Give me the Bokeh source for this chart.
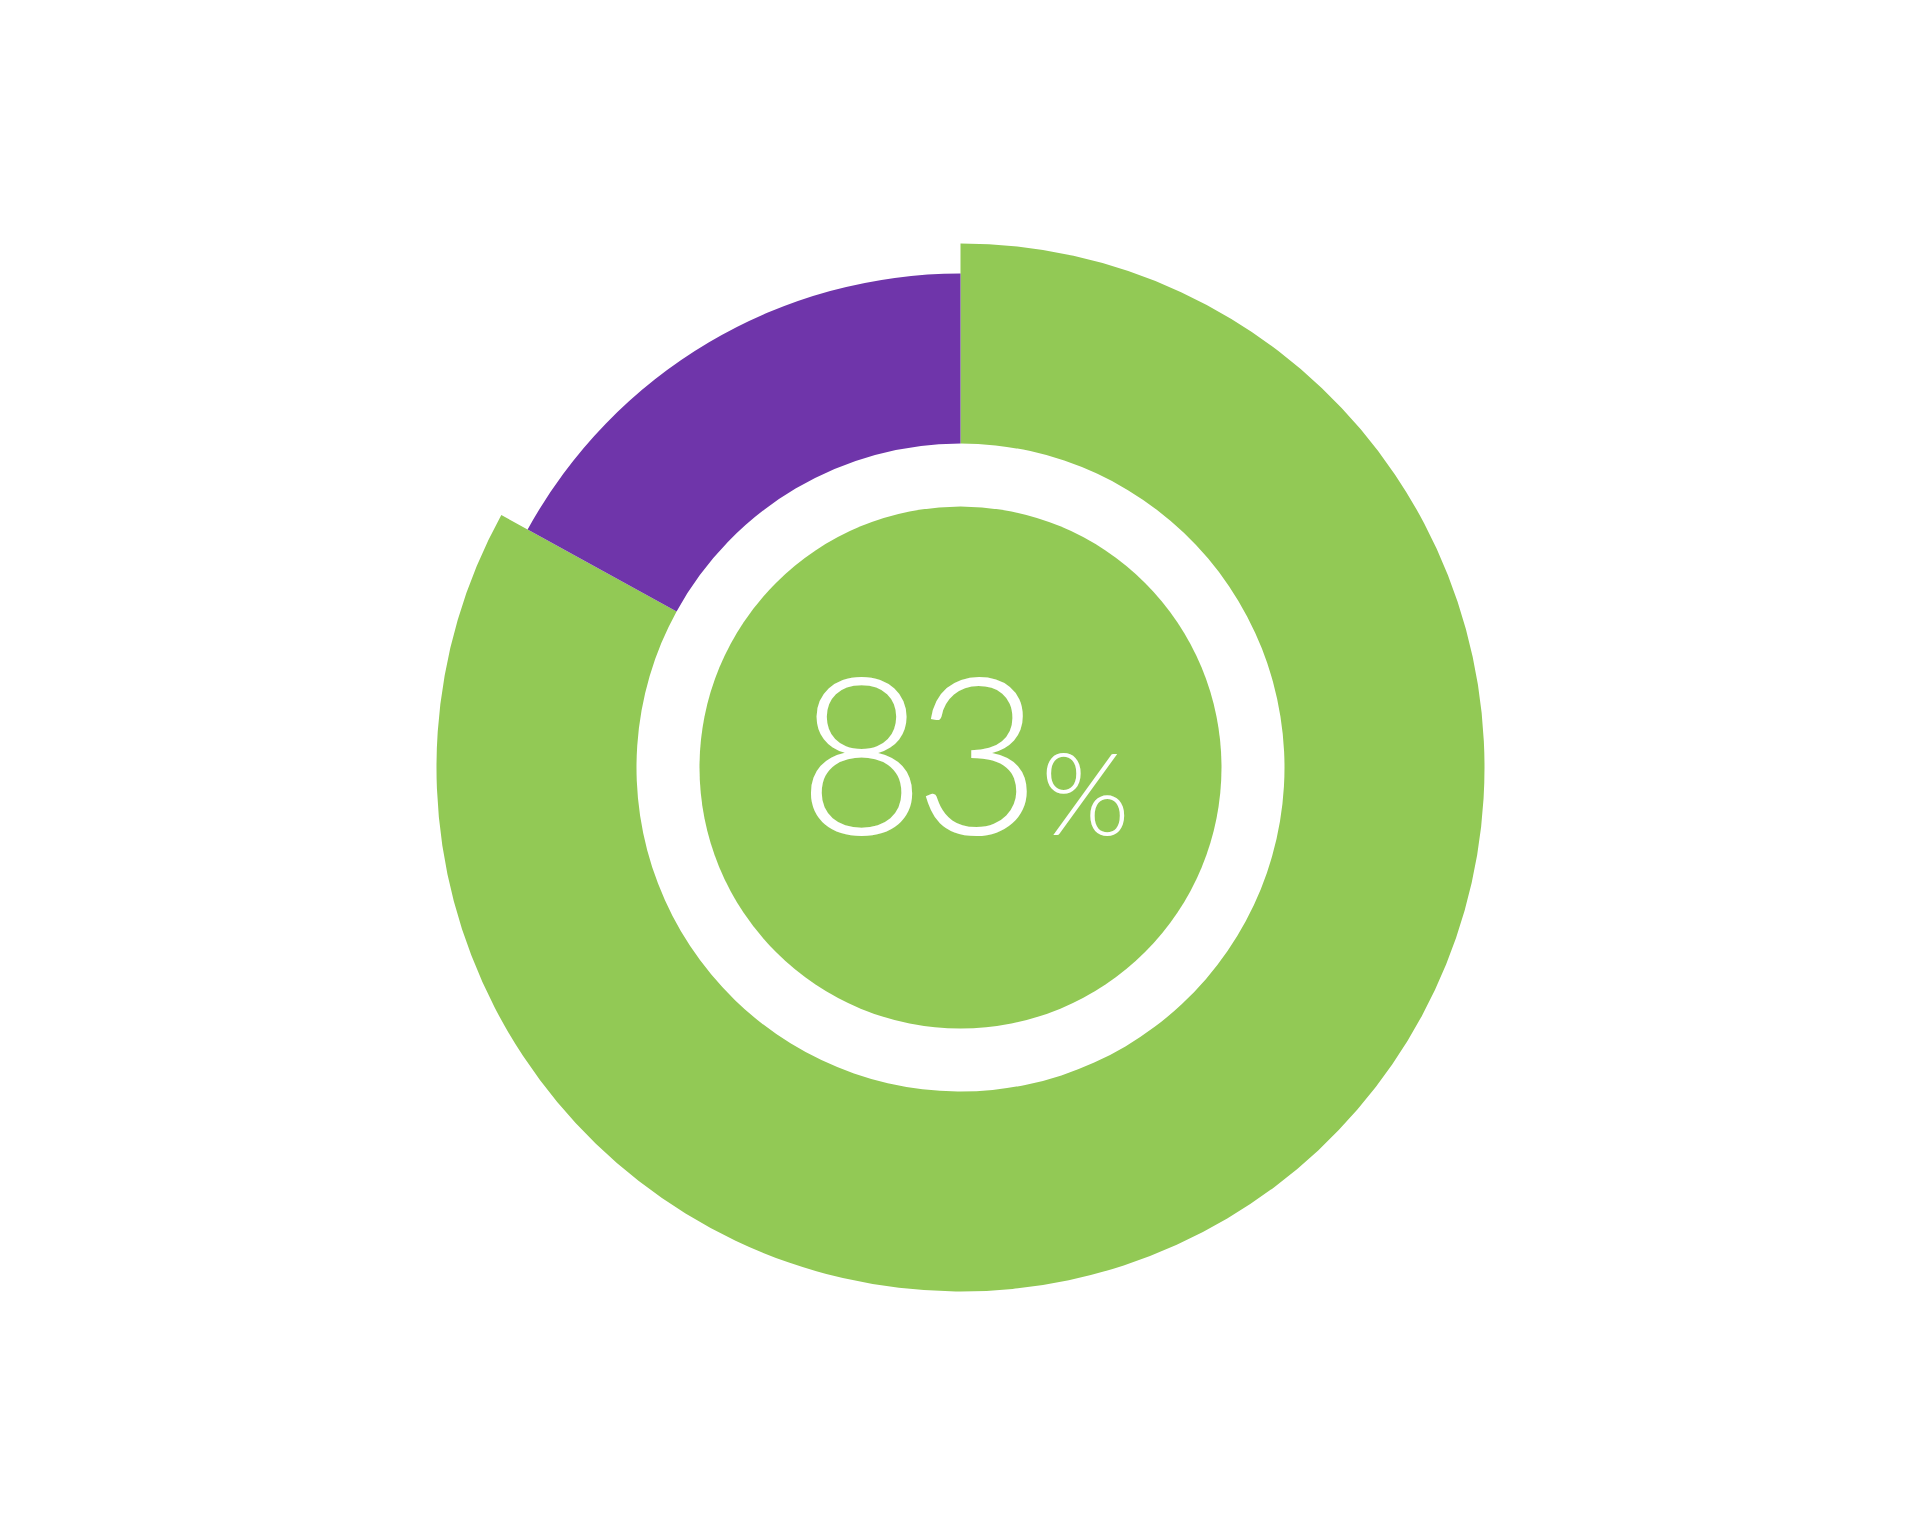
from bokeh.plotting import figure
from bokeh.models import Range1d, ColumnDataSource
from bokeh.core.properties import value
from bokeh.embed import file_html
from bokeh.resources import INLINE
import math

# ---- data ----
categories = ["Done", "Remaining"]
values = [83, 17]
colors = ["#92C955", "#6F35AA"]
label_digits = ["8", "3"]
label_suffix = "%"

# ---- layout ----
W, H = 1904, 1516
cx, cy = 960, 1532 - 767

p = figure(width=W, height=H, output_backend="svg", toolbar_location=None,
           x_range=Range1d(0, W), y_range=Range1d(1532 - H, 1532), min_border=0)
p.axis.visible = False
p.grid.visible = False
p.outline_line_color = None
p.background_fill_color = "white"
p.border_fill_color = "white"

total = sum(values)
frac_rem = values[1] / total
top = math.pi / 2
split = top + 2 * math.pi * frac_rem

# green (83%) wedge: from split, anticlockwise, round to the top
p.annular_wedge(x=[cx], y=[cy], inner_radius=324, outer_radius=524,
                start_angle=[split], end_angle=[top + 2 * math.pi],
                fill_color=colors[0], line_color=None)
# purple (17%) wedge
p.annular_wedge(x=[cx], y=[cy], inner_radius=324, outer_radius=494,
                start_angle=[top], end_angle=[split],
                fill_color=colors[1], line_color=None)
# inner disc
p.circle(x=[cx], y=[cy], radius=261, fill_color=colors[0], line_color=None)

# label
src = ColumnDataSource(dict(x=[861, 977], y=[777, 777], t=label_digits))
p.text(x="x", y="y", text="t", source=src, text_font=value("Lato Light"),
       text_font_size="220px", text_color="white", text_align="center",
       text_baseline="alphabetic")
p.text(x=[1085], y=[742], text=[label_suffix], text_font=value("Lato Light"),
       text_font_size="114px", text_color="white", text_align="center",
       text_baseline="alphabetic")

open("out.html", "w").write(file_html(p, INLINE))
